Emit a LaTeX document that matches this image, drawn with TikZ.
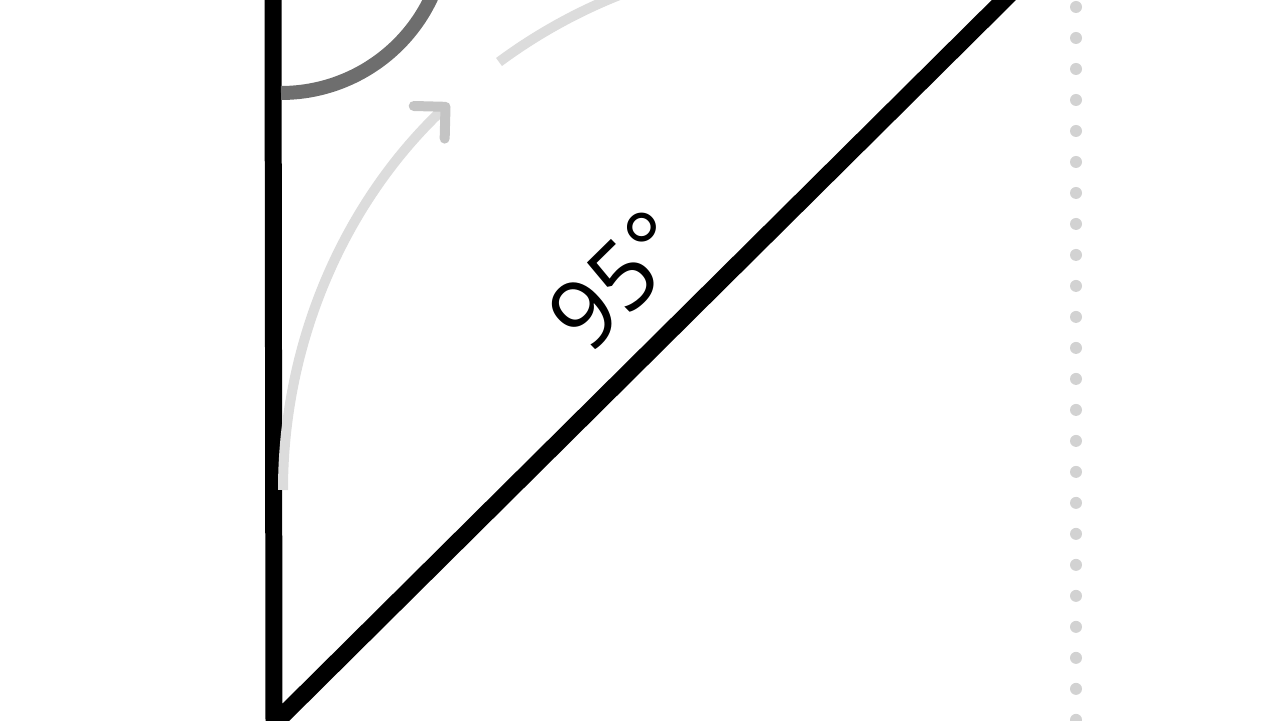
\documentclass[tikz,border=0pt]{standalone}
\usepackage{fontspec}
\setmainfont{Open Sans}
\usetikzlibrary{arrows.meta}
\definecolor{arcdark}{HTML}{6E6E6E}
\definecolor{arclight}{HTML}{DCDCDC}
\definecolor{headgray}{HTML}{C4C4C4}
\definecolor{dotgray}{HTML}{D2D2D2}

\begin{document}
\begin{tikzpicture}[x=0.02cm, y=0.02cm]
        % Styles for the sides, the arcs and the guide line
        \tikzset{
            side/.style={draw=black, line width=0.34cm, line join=miter},
            mark_arc/.style={draw=arcdark, line width=0.28cm},
            turn_arc/.style={draw=arclight, line width=0.2cm},
            guide/.style={draw=dotgray, line width=0.24cm, line cap=round, dash pattern=on 0pt off 0.62cm}
        }
        \useasboundingbox (0,0) rectangle (1280,720);
        \clip (0,0) rectangle (1280,720);

        % The two sides of the angle
        \coordinate (v) at (274,-4);
        \coordinate (top) at (273,740);
        \coordinate (tr) at (1016,732);
        \draw[side] (top) -- (v) -- (tr);

        % Angle mark at the top
        \draw[mark_arc] (281,627) arc[start angle=-90, end angle=-15, radius=166];

        % Turning arrow and its continuation
        \draw[turn_arc, -{Straight Barb[length=0.45cm, width=0.9cm, round, color=headgray]}]
            (283,230) arc[start angle=180, end angle=133.5, radius=533];
        \draw[turn_arc] (499,658) arc[start angle=126.5, end angle=108, radius=533];

        % Dotted guide on the right
        \draw[guide] (1076,713) -- (1076,-10);

        % Label of the side
        \node[rotate=44.5, font=\fontsize{54}{62}\selectfont] (lbl) at (618,440) {95°};
    \end{tikzpicture}
\end{document}
